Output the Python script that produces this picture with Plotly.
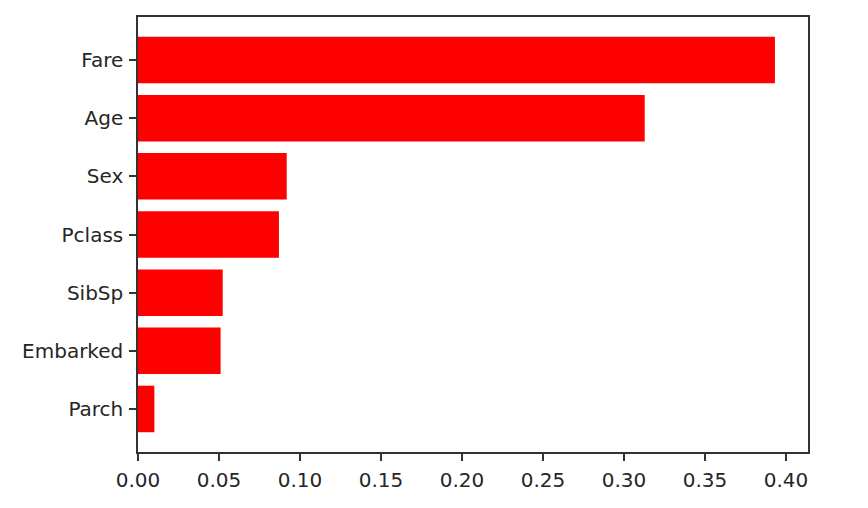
import plotly.graph_objects as go

features = ["Parch", "Embarked", "SibSp", "Pclass", "Sex", "Age", "Fare"]
importances = [0.0101, 0.0510, 0.0523, 0.0870, 0.0918, 0.3128, 0.3932]
x_ticks = [0.00, 0.05, 0.10, 0.15, 0.20, 0.25, 0.30, 0.35, 0.40]

fig = go.Figure(go.Bar(
    x=importances,
    y=features,
    orientation="h",
    marker=dict(color="#ff0000", line=dict(width=0)),
))

font = dict(family="DejaVu Sans", size=20, color="#262626")
axis_common = dict(
    showline=True, mirror=True, linecolor="#333", linewidth=1.5,
    ticks="outside", ticklen=7, tickwidth=1.5, tickcolor="#333",
    showgrid=False, zeroline=False, tickfont=font, automargin=False,
)

fig.update_layout(
    width=868, height=508,
    margin=dict(l=130, r=68, t=9, b=64),
    plot_bgcolor="white", paper_bgcolor="white",
    bargap=0.2, showlegend=False,
    xaxis=dict(range=[0, 0.4136], tickvals=x_ticks, tickformat=".2f",
               ticklabelstandoff=2, **axis_common),
    yaxis=dict(type="category", categoryorder="array", categoryarray=features,
               range=[-0.74, 6.74], ticklabelstandoff=2, **axis_common),
)

fig.write_html("out.html")
